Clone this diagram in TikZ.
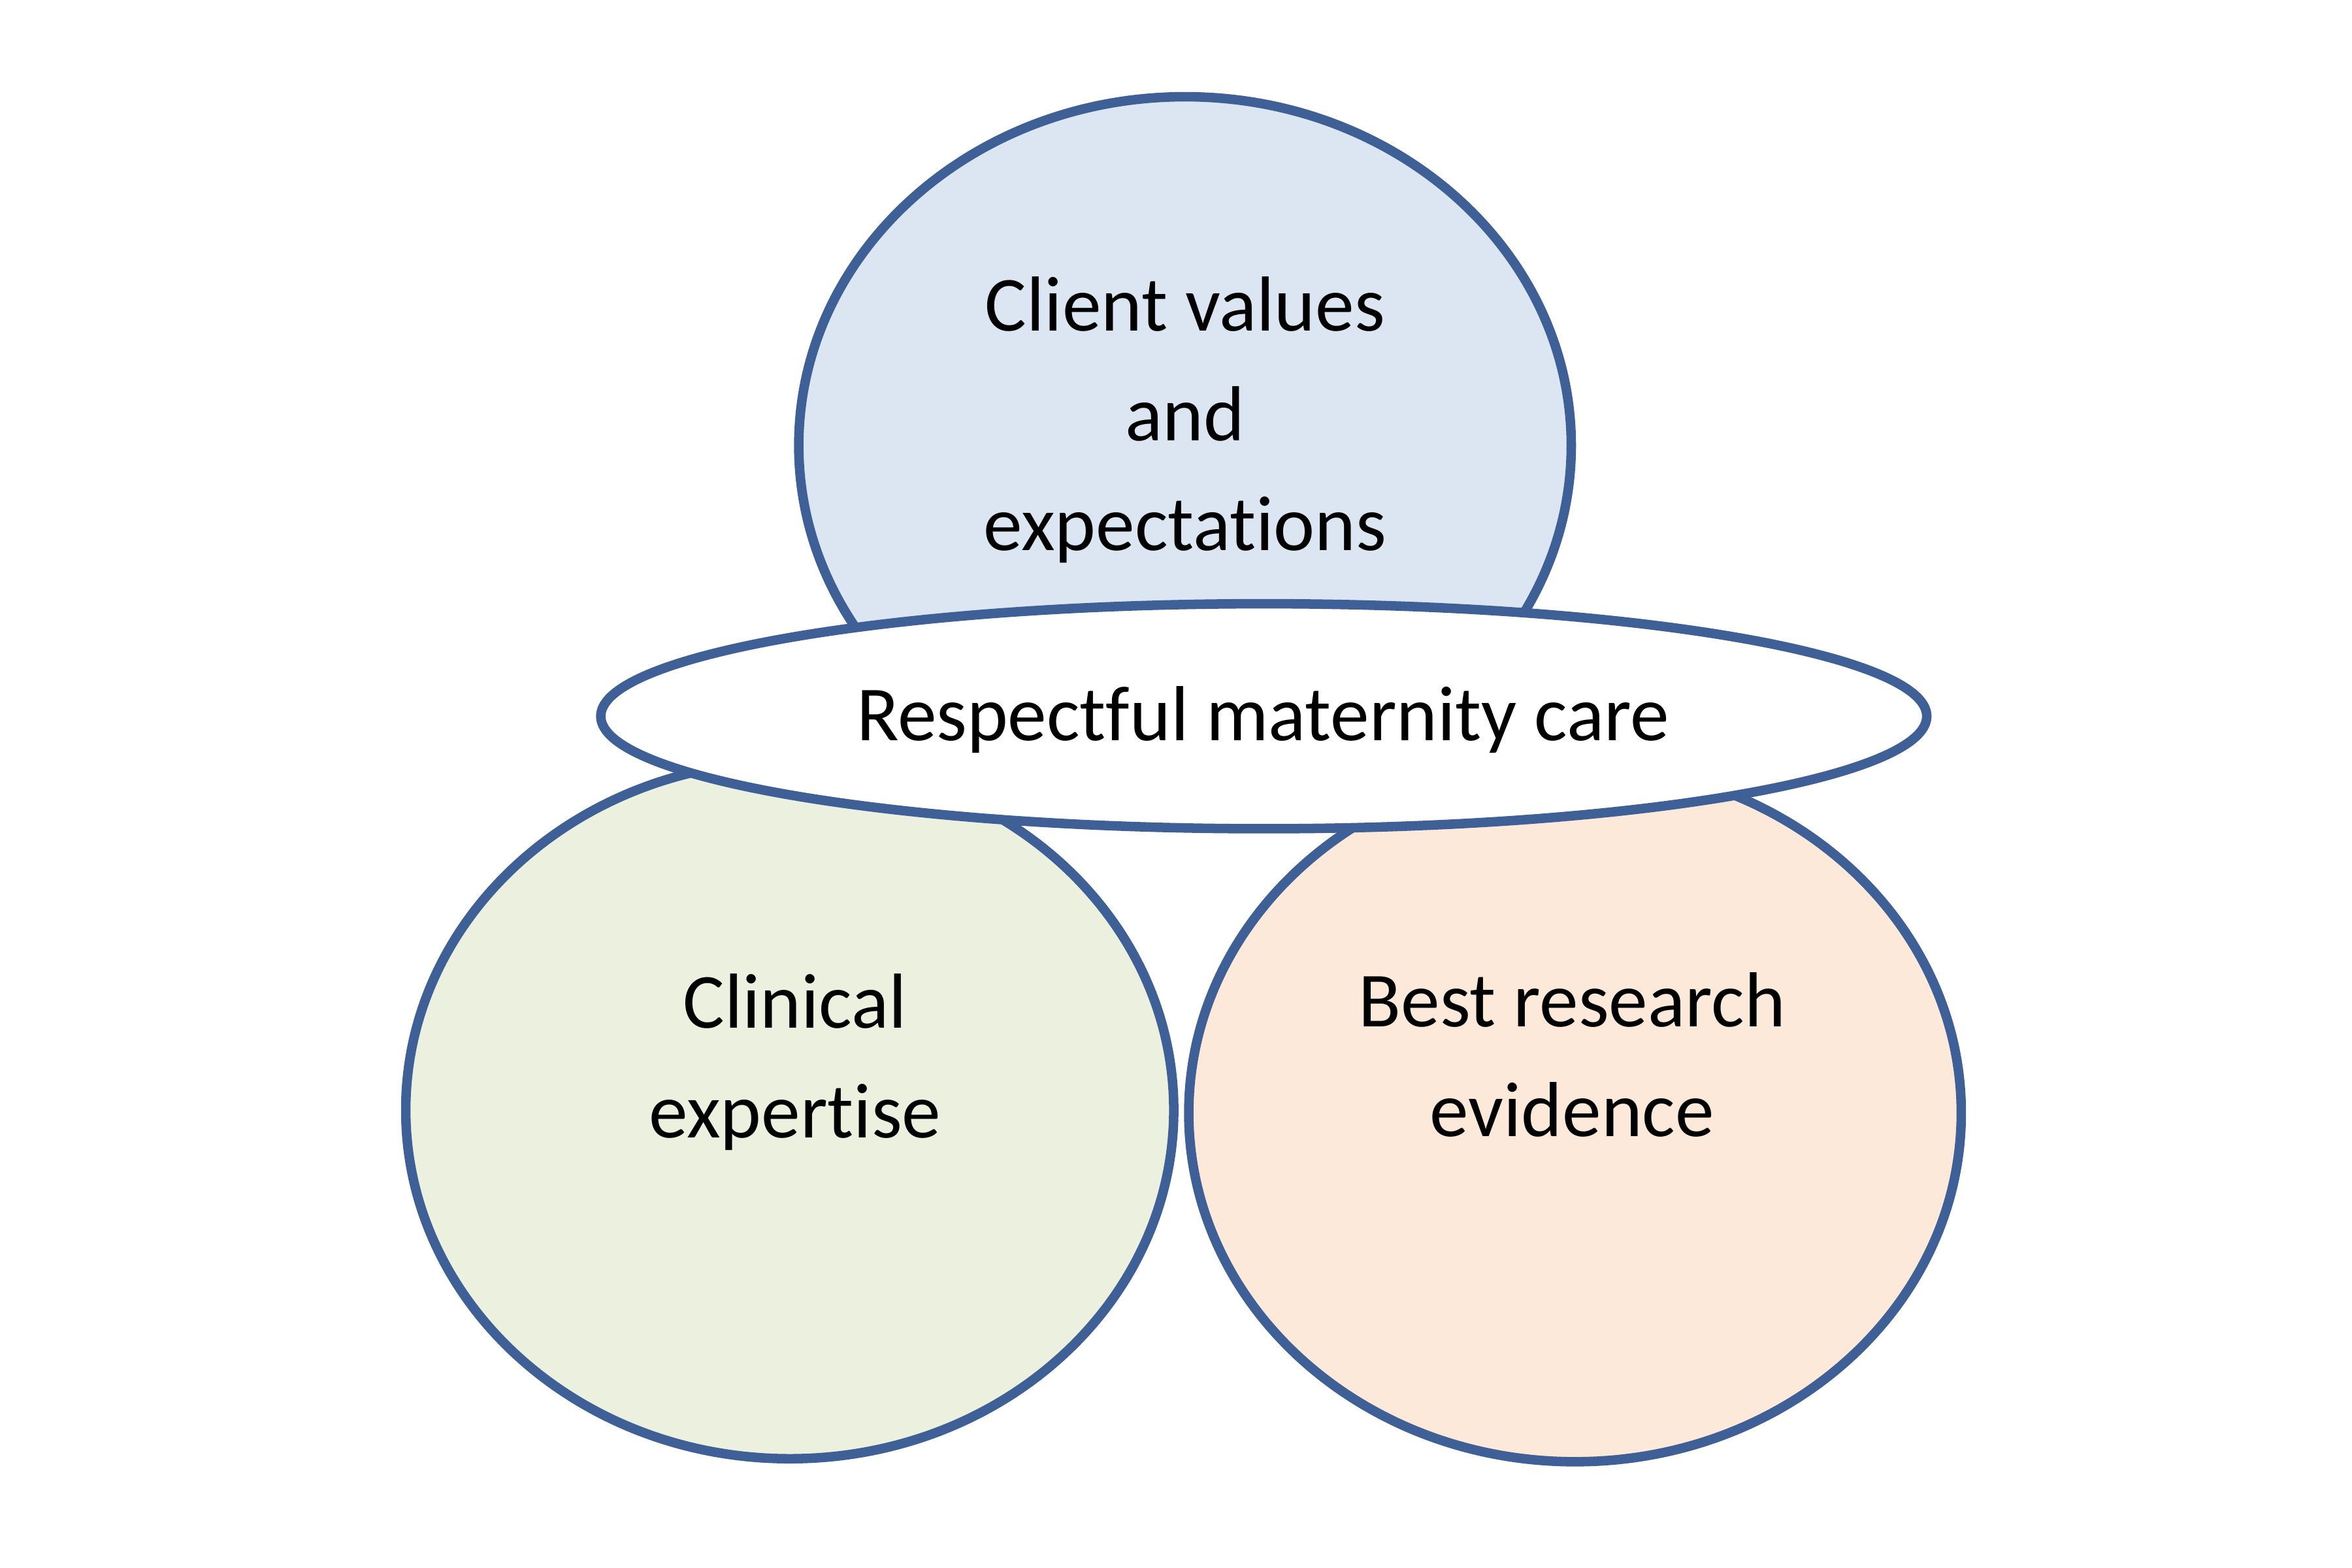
\documentclass[tikz,border=0pt]{standalone}
\usepackage{fontspec}
\setmainfont{Carlito}[Ligatures=NoCommon]
\usepackage{tikz}
\usetikzlibrary{shapes.geometric,positioning}
\definecolor{rimblue}{RGB}{62,96,150}
\definecolor{clientfill}{RGB}{220,230,242}
\definecolor{clinicfill}{RGB}{235,241,222}
\definecolor{researchfill}{RGB}{253,233,217}
\tikzset{
  sphere/.style={ellipse,draw=rimblue,line width=1.8pt,inner sep=0pt,
    minimum width=5.15cm,minimum height=4.65cm},
  label text/.style={align=center,font=\fontsize{14.8}{20.8}\selectfont},
}

\begin{document}
\begin{tikzpicture}
\useasboundingbox (0,0) rectangle (15.68,10.45);

\node[sphere,fill=clientfill] (client) at (7.90,7.48) {};
\node[sphere,fill=clinicfill,minimum width=5.12cm] (clinic) at (5.265,3.05) {};
\node[sphere,fill=researchfill] (research) at (10.50,3.03) {};
\node[sphere,fill=white,minimum width=8.84cm,minimum height=1.5cm] (care) at (8.425,5.675) {};

\node[label text] (clienttxt) at (7.90,7.65) {Client values\\and\\expectations};
\node[label text] (clinictxt) at (5.30,3.37) {Clinical\\expertise};
\node[label text] (researchtxt) at (10.48,3.42) {Best research\\evidence};
\node[label text] (caretxt) at (8.42,5.65) {Respectful maternity care};

\end{tikzpicture}
\end{document}
